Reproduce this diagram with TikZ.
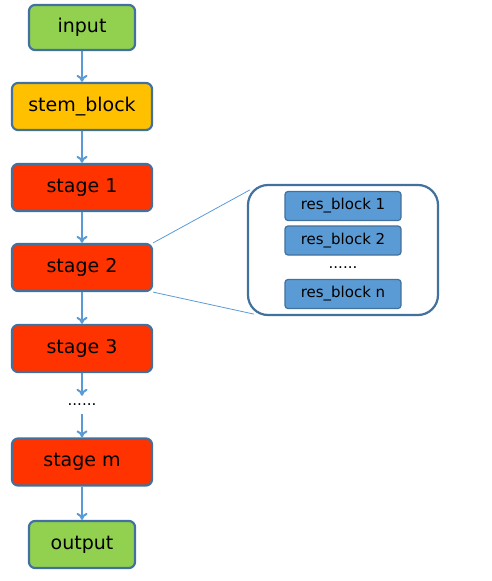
\documentclass[tikz,border=0pt]{standalone}
\usepackage{fontspec}
\setmainfont{DejaVu Sans}
\usetikzlibrary{arrows.meta}
\definecolor{lg}{RGB}{146, 208, 80}
\definecolor{lo}{RGB}{255, 192, 0}
\definecolor{lr}{RGB}{255, 51, 0}
\definecolor{lb}{RGB}{91, 155, 213}
\definecolor{bordblue}{RGB}{65, 113, 156}

\begin{document}
\begin{tikzpicture}[x = 1pt, y = -1pt,
  block/.style = {draw = bordblue, line width = 2.2pt, rounded corners = 6pt,
    minimum width = 140pt, minimum height = 47pt, inner sep = 0pt,
    font = \fontsize{19}{22}\selectfont},
  resblock/.style = {draw = bordblue, fill = lb, line width = 1.2pt, rounded corners = 3pt,
    minimum width = 116pt, minimum height = 29pt, inner sep = 0pt,
    font = \fontsize{15}{18}\selectfont},
  dotnode/.style = {inner sep = 0pt, minimum height = 18pt, font = \fontsize{15}{18}\selectfont},
  flow/.style = {draw = lb, line width = 2pt, -{To[length = 7pt, width = 11pt]}}]
\useasboundingbox (0,0) rectangle (491,581);
\node[block, fill = lg, minimum width = 106pt, minimum height = 45pt] (input) at (82,27.5) {input};
\node[block, fill = lo] (stem) at (82,106.5) {stem\_block};
\node[block, fill = lr] (st1) at (82,187.5) {stage 1};
\node[block, fill = lr] (st2) at (82,267.5) {stage 2};
\node[block, fill = lr] (st3) at (82,348.5) {stage 3};
\node[dotnode] (dots) at (82,405) {......};
\node[block, fill = lr] (stm) at (82,462) {stage m};
\node[block, fill = lg, minimum width = 106pt] (output) at (82,544.5) {output};
% arrows down the column
\foreach \a/\b in {input/stem, stem/st1, st1/st2, st2/st3, st3/dots, dots/stm, stm/output}
{
\draw[flow] (\a) -- (\b);
}
% detail of one stage
\node[draw = bordblue, line width = 2.2pt, rounded corners = 20pt, fill = white,
  minimum width = 190pt, minimum height = 130pt] (detail) at (343,250) {};
\node[resblock] (rb1) at (343,206) {res\_block 1};
\node[resblock] (rb2) at (343,240.5) {res\_block 2};
\node[dotnode, minimum height = 12pt] (rbdots) at (343,268) {......};
\node[resblock] (rbn) at (343,294) {res\_block n};
\draw[lb, line width = 0.8pt] (st2.north east) -- ([shift = {(3pt,-6pt)}]detail.north west);
\draw[lb, line width = 0.8pt] (st2.south east) -- ([shift = {(7pt,2pt)}]detail.south west);
\end{tikzpicture}
\end{document}
